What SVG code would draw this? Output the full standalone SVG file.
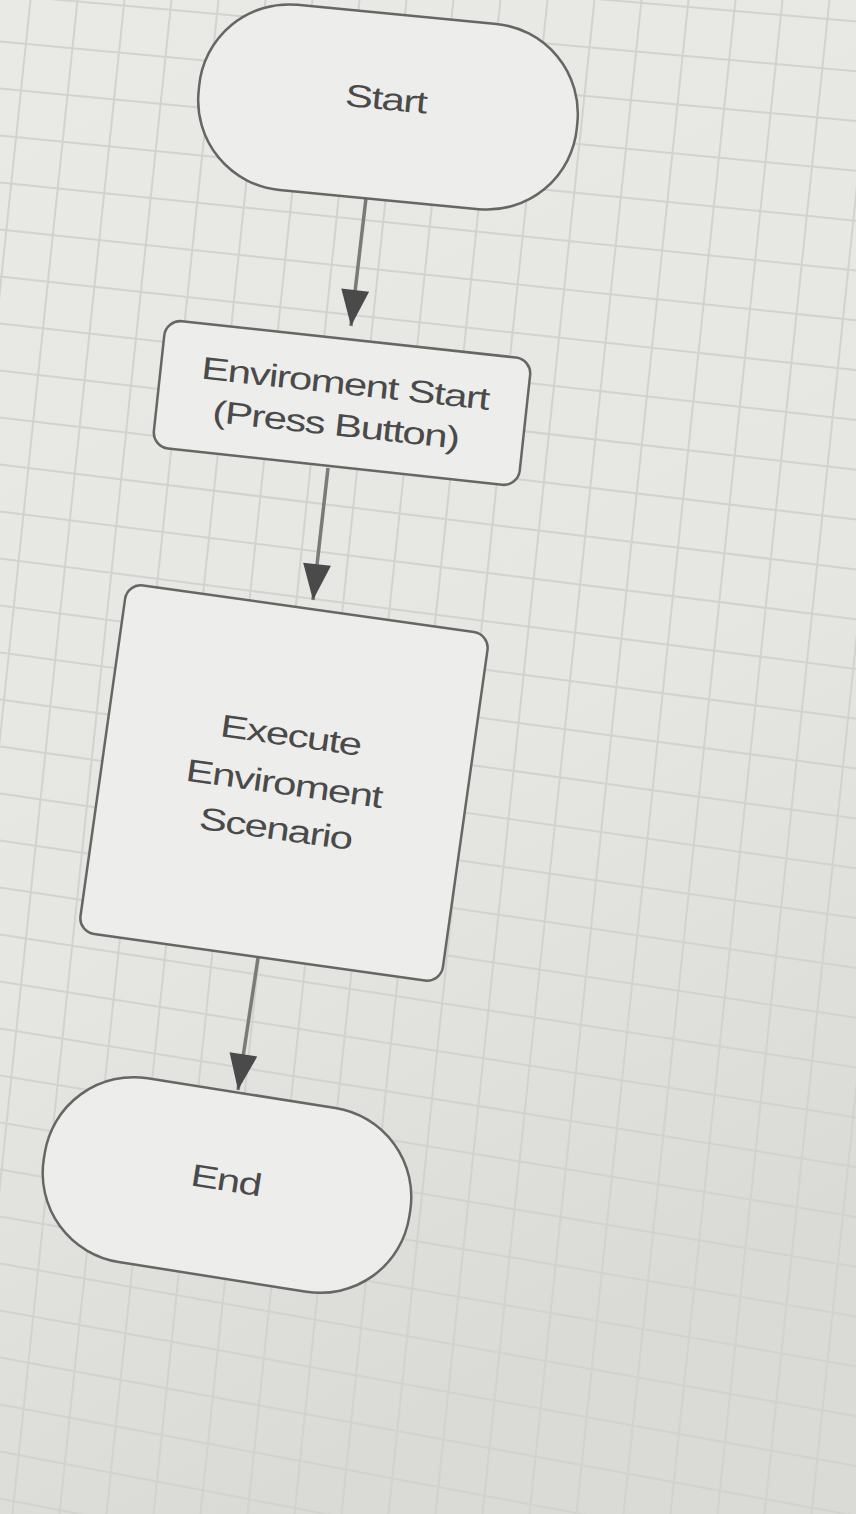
<svg xmlns="http://www.w3.org/2000/svg" width="856" height="1514" viewBox="0 0 856 1514">
  <defs>
    <linearGradient id="bg" x1="0" y1="0" x2="0.3" y2="1">
      <stop offset="0" stop-color="#e9e9e5"/>
      <stop offset="0.6" stop-color="#e6e6e2"/>
      <stop offset="1" stop-color="#dadad6"/>
    </linearGradient>
    <marker id="arrow" viewBox="-2 -16 40 32" refX="36" refY="0" markerWidth="40" markerHeight="32" markerUnits="userSpaceOnUse" orient="auto">
      <path d="M0,-14 L36,0 L0,14 z" fill="#4a4a4a"/>
    </marker>
  </defs>
  <style>
    .grid { fill: none; stroke: #d2d2ce; stroke-width: 2; }
    .shape { fill: #ededeb; stroke: #666666; stroke-width: 2.5; }
    .label { font-family: "Liberation Sans", Arial, sans-serif; font-size: 42px; fill: #4a4a4a; text-anchor: middle; letter-spacing: -1.5px; }
    .conn { stroke: #7a7a7a; stroke-width: 3.5; fill: none; marker-end: url(#arrow); }
  </style>
  <rect x="0" y="0" width="856" height="1514" fill="url(#bg)"/>
  <g id="grid" class="grid">
    <path d="M0,-99.5 L856,-28.4 M0,-52.5 L856,21.4 M0,-5.5 L856,71.2 M0,41.5 L856,121 M0,88.5 L856,170.8 M0,135.5 L856,220.7 M0,182.5 L856,270.5 M0,229.5 L856,320.3 M0,276.5 L856,370.1 M0,323.5 L856,419.9 M0,370.5 L856,469.7 M0,417.5 L856,519.6 M0,464.5 L856,569.4 M0,511.5 L856,619.2 M0,558.5 L856,669 M0,605.5 L856,718.8 M0,652.5 L856,768.6 M0,699.5 L856,818.5 M0,746.5 L856,868.3 M0,793.5 L856,918.1 M0,840.5 L856,967.9 M0,887.5 L856,1017.7 M0,934.5 L856,1067.5 M0,981.5 L856,1117.4 M0,1028.5 L856,1167.2 M0,1075.5 L856,1217 M0,1122.5 L856,1266.8 M0,1169.5 L856,1316.6 M0,1216.5 L856,1366.4 M0,1263.5 L856,1416.3 M0,1310.5 L856,1466.1 M0,1357.5 L856,1515.9 M0,1404.5 L856,1565.7 M0,1451.5 L856,1615.5 M0,1498.5 L856,1665"/>
    <path d="M-16.5,0 L-175.5,1514 M30.5,0 L-128.5,1514 M77.5,0 L-81.5,1514 M124.5,0 L-34.5,1514 M171.5,0 L12.5,1514 M218.5,0 L59.5,1514 M265.5,0 L106.5,1514 M312.5,0 L153.5,1514 M359.5,0 L200.5,1514 M406.5,0 L247.5,1514 M453.5,0 L294.5,1514 M500.5,0 L341.5,1514 M547.5,0 L388.5,1514 M594.5,0 L435.5,1514 M641.5,0 L482.5,1514 M688.5,0 L529.5,1514 M735.5,0 L576.5,1514 M782.5,0 L623.5,1514 M829.5,0 L670.5,1514 M876.5,0 L717.5,1514 M923.5,0 L764.5,1514 M970.5,0 L811.5,1514 M1017.5,0 L858.5,1514"/>
  </g>

  <g id="connectors">
    <line class="conn" x1="366" y1="198" x2="351" y2="326"/>
    <line class="conn" x1="328" y1="468" x2="313" y2="600"/>
    <line class="conn" x1="258" y1="958" x2="238" y2="1090"/>
  </g>

  <g id="node-start" transform="translate(388,107) rotate(5.5)">
    <rect class="shape" x="-190" y="-93" width="380" height="186" rx="90" ry="90"/>
    <g transform="scale(1,0.75)">
      <text class="label" x="-3" y="4">Start</text>
    </g>
  </g>

  <g id="node-env-start" transform="translate(342,403) rotate(6.2)">
    <rect class="shape" x="-184" y="-64" width="368" height="128" rx="16" ry="16"/>
    <g transform="scale(1,0.75)">
      <text class="label" x="1" y="-12">Enviroment Start</text>
      <text class="label" x="-4" y="44">(Press Button)</text>
    </g>
  </g>

  <g id="node-execute" transform="translate(284,783) rotate(8)">
    <rect class="shape" x="-183" y="-176" width="366" height="352" rx="16" ry="16"/>
    <g transform="scale(1,0.75)">
      <text class="label" x="0" y="-50">Execute</text>
      <text class="label" x="0" y="15">Enviroment</text>
      <text class="label" x="-2" y="76">Scenario</text>
    </g>
  </g>

  <g id="node-end" transform="translate(227,1185) rotate(9)">
    <rect class="shape" x="-185" y="-93" width="370" height="186" rx="90" ry="90"/>
    <g transform="scale(1,0.75)">
      <text class="label" x="-2" y="8">End</text>
    </g>
  </g>
</svg>
